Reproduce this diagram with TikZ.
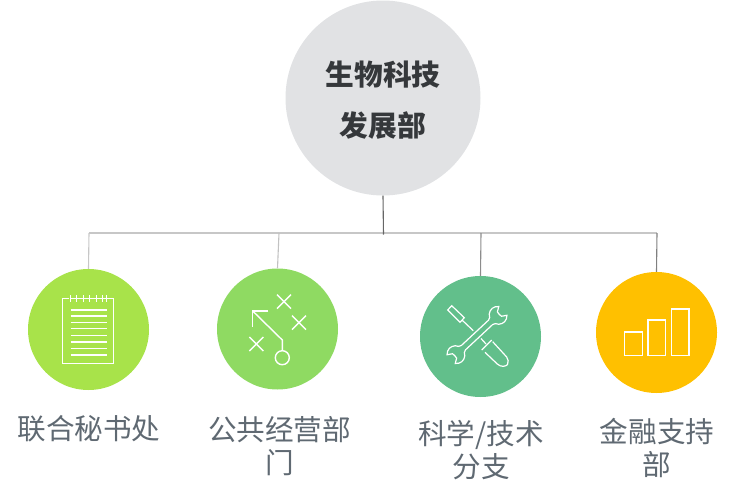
\documentclass[tikz,border=0pt]{standalone}
\usepackage{fontspec}
\setmainfont{Noto Sans CJK SC}
\definecolor{headgray}{HTML}{E1E2E4}
\definecolor{limegreen}{HTML}{A8E34A}
\definecolor{leafgreen}{HTML}{8FDA62}
\definecolor{seagreen}{HTML}{62BF8B}
\definecolor{ambergold}{HTML}{FFC000}
\definecolor{labelgray}{HTML}{5F6972}
\definecolor{headtext}{HTML}{35383B}
\begin{document}
\begin{tikzpicture}[x=1pt, y=-1pt, dept node/.style={circle,draw=none,inner sep=0pt,minimum size=121pt}, dept label/.style={text=labelgray,align=center,inner sep=0pt,font=\fontsize{28.6}{33}\selectfont}, link/.style={line width=1.1pt,color=#1}, icon/.style={draw=white,line width=1.4pt,line join=miter}]

                    \useasboundingbox (0,0) rectangle (742,501);

                    \node[circle, fill=headgray, inner sep=0pt, minimum size=195pt] at (383, 98) (head) {};
                    \node[text=headtext, align=center, inner sep=0pt, font=\fontsize{28.7}{51}\selectfont\bfseries] at (383, 100) (headtext) {生物科技\\发展部};

                    \node[dept node, fill=limegreen] at (88.5, 329.5) (office) {};
                    \node[dept node, fill=leafgreen] at (277.5, 329) (ops) {};
                    \node[dept node, fill=seagreen] at (480.5, 336.5) (science) {};
                    \node[dept node, fill=ambergold] at (656.5, 332.5) (finance) {};

                    \node[dept label] at (89, 429) (officetext) {联合秘书处};
                    \node[dept label] at (279.5, 446) (opstext) {公共经营部\\门};
                    \node[dept label] at (481, 450) (sciencetext) {科学/技术\\分支};
                    \node[dept label] at (657, 448) (financetext) {金融支持\\部};

                    \coordinate (hub) at (383.5, 233);
                    \coordinate (busleft) at (89, 233);
                    \coordinate (busops) at (279, 233);
                    \coordinate (busscience) at (481, 233);
                    \coordinate (busright) at (657, 233);

                    \path[link={black!22}] (busleft) edge (busright);
                    \path[link={black!22}] (busleft) edge (office.north);
                    \path[link={black!24}] (busops) edge (ops.north);
                    \path[link={black!45}] (busscience) edge (science.north);
                    \path[link={black!50}] (busright) edge (finance.north);
                    \path[link={black!60}] (head.south) edge ([yshift=-1.5pt]hub);

                    % notepad
                    \draw[icon] (69,298.3) -- (62.7,298.3) -- (62.7,363.3) -- (113.7,363.3) -- (113.7,298.3) -- (107,298.3);
                    \draw[icon,line width=1pt] (70,298.3) -- (106,298.3);
                    \foreach \x in {70,76.5,83,89.5,96,102.5,106}
                        \draw[icon,line width=1pt] (\x,295) -- (\x,302);
                    \foreach \y in {310,316,322.3,328.7,335.3,342,348.3,355}
                        \draw[icon] (70.7,\y) -- (106.7,\y);

                    % play sketch
                    \foreach \cx/\cy in {284/301.7, 299/322.7, 256.3/344}
                        \draw[icon] (\cx-7,\cy-7) -- (\cx+7,\cy+7) (\cx-7,\cy+7) -- (\cx+7,\cy-7);
                    \draw[icon] (268.3,311) -- (252.7,311) -- (252.7,326.7);
                    \draw[icon] (252.7,311) -- (282.3,340) -- (282.3,350.7);
                    \draw[icon] (282.3,357.7) circle (7);

                    % screwdriver
                    \draw[icon,line width=1.2pt] (447.7,310) -- (451.7,305.7) -- (464.3,317.7) -- (460,322.3) -- cycle;
                    \draw[icon,line width=1.2pt] (462,320) -- (473.3,330.7);
                    \draw[icon,line width=1.2pt] (481,338.5) -- (486,344);
                    \draw[icon,line width=1.2pt] (481.7,350) -- (491.7,340);
                    \draw[icon,line width=1.2pt] (485,352.3) -- (497.3,364) .. controls (501,367.5) and (506,366.5) .. (507.5,364.5) .. controls (508.5,362.5) and (508.5,359) .. (506.7,357) -- (492.7,341.7);

                    % wrench
                    \begin{scope}[shift={(477,335)}, rotate=43, xscale=0.93]
                        \draw[icon,line width=1.2pt] (-20,3) -- (20,3) .. controls (23,3) and (23,5) .. (25,7) .. controls (29,10) and (34,10) .. (38,6) -- (33,3) .. controls (32.5,1.5) and (32.5,-1.5) .. (33,-3) -- (38,-6) .. controls (34,-10) and (29,-10) .. (25,-7) .. controls (23,-5) and (23,-3) .. (20,-3) -- (-20,-3) .. controls (-23,-3) and (-23,-5) .. (-25,-7) .. controls (-29,-10) and (-34,-10) .. (-38,-6) -- (-33,-3) .. controls (-32.5,-1.5) and (-32.5,1.5) .. (-33,3) -- (-38,6) .. controls (-34,10) and (-29,10) .. (-25,7) .. controls (-23,5) and (-23,3) .. (-20,3) -- cycle;
                    \end{scope}

                    % bars
                    \draw[icon] (624.3,332) rectangle (642.3,355.3);
                    \draw[icon] (648,320) rectangle (665.3,355.3);
                    \draw[icon] (671.3,309) rectangle (689,355.3);

                \end{tikzpicture}
\end{document}
